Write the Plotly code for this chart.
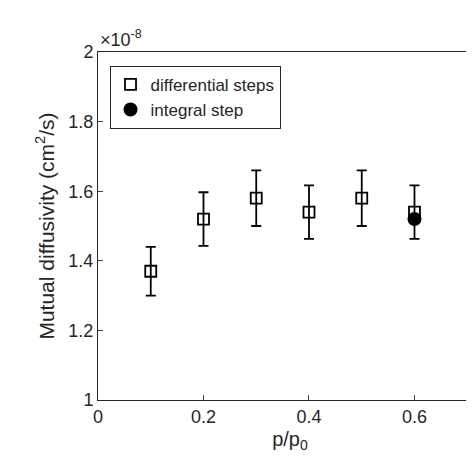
import plotly.graph_objects as go

x_diff = [0.1, 0.2, 0.3, 0.4, 0.5, 0.6]
y_diff = [1.37, 1.52, 1.58, 1.54, 1.58, 1.54]
err_diff = [0.07, 0.077, 0.08, 0.077, 0.08, 0.077]
x_int = [0.6]
y_int = [1.52]
x_ticks = [0, 0.2, 0.4, 0.6]
y_ticks = [1, 1.2, 1.4, 1.6, 1.8, 2]

fig = go.Figure()
fig.add_trace(go.Scatter(x=x_diff, y=y_diff, mode="markers", name="differential steps",
    marker=dict(symbol="square-open", size=11, color="black", line=dict(width=1.8)),
    error_y=dict(type="data", array=err_diff, color="black", thickness=1.8, width=5)))
fig.add_trace(go.Scatter(x=x_int, y=y_int, mode="markers", name="integral step",
    marker=dict(symbol="circle", size=14, color="black")))
fig.update_layout(
    width=474, height=474, margin=dict(l=90, r=0, t=44, b=82),
    plot_bgcolor="white", paper_bgcolor="white",
    font=dict(family="Liberation Sans, Arial", size=18, color="#262626"),
    showlegend=True,
    legend=dict(x=0.03, y=0.96, xanchor="left", yanchor="top", bordercolor="#262626",
                borderwidth=1, bgcolor="white", font=dict(size=17)),
    xaxis=dict(range=[0, 0.728], tickvals=x_ticks, ticktext=["0", "0.2", "0.4", "0.6"],
               showline=True, linecolor="#262626", mirror=True, ticks="inside", ticklen=5,
               showgrid=False, zeroline=False,
               title=dict(text="p/p<sub>0</sub>", font=dict(size=20), standoff=6)),
    yaxis=dict(range=[1, 2], tickvals=y_ticks, ticktext=["1", "1.2", "1.4", "1.6", "1.8", "2"],
               showline=True, linecolor="#262626", mirror=True, ticks="inside", ticklen=5,
               showgrid=False, zeroline=False,
               title=dict(text="Mutual diffusivity (cm<sup>2</sup>/s)", font=dict(size=21), standoff=8)),
)
fig.add_annotation(text="×10<sup>-8</sup>", xref="paper", yref="paper", x=0, y=1.0,
                   xanchor="left", yanchor="bottom", showarrow=False, font=dict(size=18))
fig.write_html("out.html")
